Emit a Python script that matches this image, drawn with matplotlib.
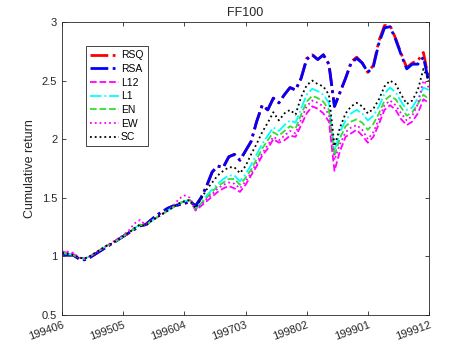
import matplotlib
matplotlib.use("Agg")
import matplotlib.pyplot as plt
import numpy as np

plt.rcParams['font.family'] = ['Liberation Sans', 'DejaVu Sans']

tick_labels = ["199406", "199505", "199604", "199703", "199802", "199901", "199912"]

rsa = [1.02, 1.01, 1.01, 0.98, 0.97, 0.99, 1.02, 1.05, 1.08, 1.11, 1.14, 1.17, 1.20, 1.23,
       1.26, 1.27, 1.31, 1.35, 1.38, 1.41, 1.43, 1.44, 1.45, 1.47, 1.43, 1.50, 1.60, 1.72,
       1.77, 1.76, 1.85, 1.87, 1.82, 1.90, 1.98, 2.15, 2.29, 2.25, 2.35, 2.31, 2.38, 2.44,
       2.42, 2.52, 2.68, 2.72, 2.68, 2.72, 2.64, 2.28, 2.40, 2.52, 2.65, 2.69, 2.65, 2.57,
       2.62, 2.82, 2.95, 2.96, 2.85, 2.72, 2.60, 2.64, 2.64, 2.70, 2.48]
rsq = [1.02, 1.01, 1.01, 0.98, 0.97, 0.99, 1.02, 1.05, 1.08, 1.11, 1.14, 1.17, 1.20, 1.23,
       1.26, 1.27, 1.31, 1.35, 1.38, 1.41, 1.43, 1.44, 1.45, 1.47, 1.43, 1.50, 1.60, 1.72,
       1.77, 1.76, 1.85, 1.87, 1.82, 1.90, 1.98, 2.15, 2.29, 2.25, 2.35, 2.31, 2.38, 2.44,
       2.42, 2.52, 2.69, 2.72, 2.68, 2.72, 2.64, 2.28, 2.40, 2.52, 2.66, 2.70, 2.65, 2.57,
       2.63, 2.84, 2.97, 2.97, 2.86, 2.73, 2.61, 2.65, 2.67, 2.74, 2.50]
l12 = [1.04, 1.03, 1.02, 0.99, 0.98, 1.00, 1.03, 1.06, 1.09, 1.11, 1.14, 1.17, 1.20, 1.24,
       1.27, 1.26, 1.30, 1.33, 1.36, 1.39, 1.42, 1.45, 1.47, 1.48, 1.39, 1.43, 1.47, 1.51,
       1.55, 1.58, 1.60, 1.58, 1.55, 1.61, 1.69, 1.77, 1.86, 1.92, 2.00, 1.97, 1.99, 2.03,
       2.02, 2.12, 2.22, 2.28, 2.26, 2.22, 2.15, 1.73, 1.90, 2.02, 2.05, 2.08, 2.03, 1.97,
       2.02, 2.13, 2.25, 2.29, 2.25, 2.17, 2.12, 2.15, 2.22, 2.34, 2.31]
l1 = [1.03, 1.02, 1.01, 0.99, 0.98, 1.00, 1.03, 1.06, 1.09, 1.11, 1.14, 1.17, 1.20, 1.24,
      1.27, 1.26, 1.30, 1.33, 1.36, 1.39, 1.42, 1.45, 1.47, 1.48, 1.40, 1.46, 1.52, 1.57,
      1.62, 1.66, 1.69, 1.69, 1.64, 1.70, 1.78, 1.87, 1.96, 2.03, 2.10, 2.07, 2.12, 2.16,
      2.14, 2.26, 2.38, 2.43, 2.41, 2.38, 2.31, 1.90, 2.06, 2.16, 2.22, 2.25, 2.22, 2.16,
      2.20, 2.28, 2.39, 2.44, 2.40, 2.32, 2.25, 2.27, 2.35, 2.44, 2.42]
en = [1.03, 1.02, 1.01, 0.99, 0.98, 1.00, 1.03, 1.06, 1.09, 1.11, 1.14, 1.17, 1.20, 1.24,
      1.27, 1.26, 1.30, 1.33, 1.36, 1.39, 1.42, 1.45, 1.47, 1.48, 1.40, 1.45, 1.50, 1.55,
      1.60, 1.63, 1.66, 1.66, 1.61, 1.67, 1.74, 1.83, 1.92, 1.99, 2.06, 2.03, 2.07, 2.11,
      2.09, 2.21, 2.32, 2.37, 2.35, 2.32, 2.25, 1.86, 2.01, 2.11, 2.15, 2.17, 2.14, 2.08,
      2.13, 2.22, 2.33, 2.37, 2.34, 2.27, 2.20, 2.23, 2.30, 2.38, 2.34]
ew = [1.04, 1.04, 1.03, 0.99, 0.98, 1.00, 1.03, 1.06, 1.09, 1.12, 1.15, 1.18, 1.22, 1.28,
      1.31, 1.27, 1.30, 1.33, 1.36, 1.39, 1.43, 1.49, 1.52, 1.50, 1.40, 1.44, 1.49, 1.53,
      1.58, 1.61, 1.63, 1.62, 1.58, 1.64, 1.71, 1.80, 1.88, 1.95, 2.02, 1.99, 2.03, 2.07,
      2.05, 2.17, 2.28, 2.33, 2.31, 2.28, 2.21, 1.82, 1.96, 2.06, 2.10, 2.12, 2.08, 2.00,
      2.06, 2.17, 2.29, 2.33, 2.29, 2.22, 2.16, 2.20, 2.30, 2.50, 2.44]
sc = [1.03, 1.02, 1.01, 0.99, 0.98, 1.00, 1.03, 1.06, 1.09, 1.11, 1.14, 1.17, 1.20, 1.24,
      1.27, 1.26, 1.30, 1.33, 1.36, 1.39, 1.42, 1.45, 1.47, 1.48, 1.41, 1.49, 1.57, 1.63,
      1.69, 1.73, 1.76, 1.76, 1.71, 1.77, 1.87, 1.96, 2.06, 2.14, 2.23, 2.16, 2.22, 2.25,
      2.21, 2.36, 2.46, 2.50, 2.47, 2.45, 2.38, 1.94, 2.10, 2.22, 2.28, 2.31, 2.28, 2.22,
      2.26, 2.34, 2.45, 2.50, 2.47, 2.38, 2.30, 2.33, 2.42, 2.60, 2.50]

x = np.arange(len(rsa))

fig = plt.figure(figsize=(4.74, 3.55), dpi=100)
ax = fig.add_axes([0.131, 0.113, 0.774, 0.825])

ax.plot(x, rsq, color='#ff0000', linestyle='-.', linewidth=2.0, label='RSQ')
ax.plot(x, rsa, color='#0000ff', linestyle='-.', linewidth=2.0, label='RSA')
ax.plot(x, l12, color='#ff00ff', linestyle='--', linewidth=1.3, label='L12')
ax.plot(x, l1, color='#00ffff', linestyle='-.', linewidth=1.3, label='L1')
ax.plot(x, en, color='#33dd33', linestyle='--', linewidth=1.3, label='EN')
ax.plot(x, ew, color='#ff00ff', linestyle=':', linewidth=1.3, label='EW')
ax.plot(x, sc, color='#000000', linestyle=':', linewidth=1.3, label='SC')

ax.set_xlim(0, len(rsa) - 1)
ax.set_ylim(0.5, 3)
ax.set_xticks(np.arange(0, len(rsa), 11))
ax.set_xticklabels(tick_labels, rotation=20, ha='right', rotation_mode='anchor', fontsize=8)
ax.set_yticks([0.5, 1, 1.5, 2, 2.5, 3])
ax.set_yticklabels(['0.5', '1', '1.5', '2', '2.5', '3'], fontsize=8)
ax.tick_params(direction='in', top=True, right=True, length=3, width=0.6, colors='#262626')
for s in ax.spines.values():
    s.set_linewidth(0.6)
    s.set_color('#262626')
ax.set_ylabel('Cumulative return', fontsize=9, color='#262626')
ax.set_title('FF100', fontsize=9, color='#262626', pad=4)

leg = ax.legend(loc='upper left', bbox_to_anchor=(0.05, 0.935), fontsize=7.5,
                handlelength=2.8, handletextpad=0.2, labelspacing=0.35,
                borderpad=0.4, fancybox=False, framealpha=1, edgecolor='#262626')
leg.get_frame().set_linewidth(0.6)

fig.savefig('out.png', dpi=100)
